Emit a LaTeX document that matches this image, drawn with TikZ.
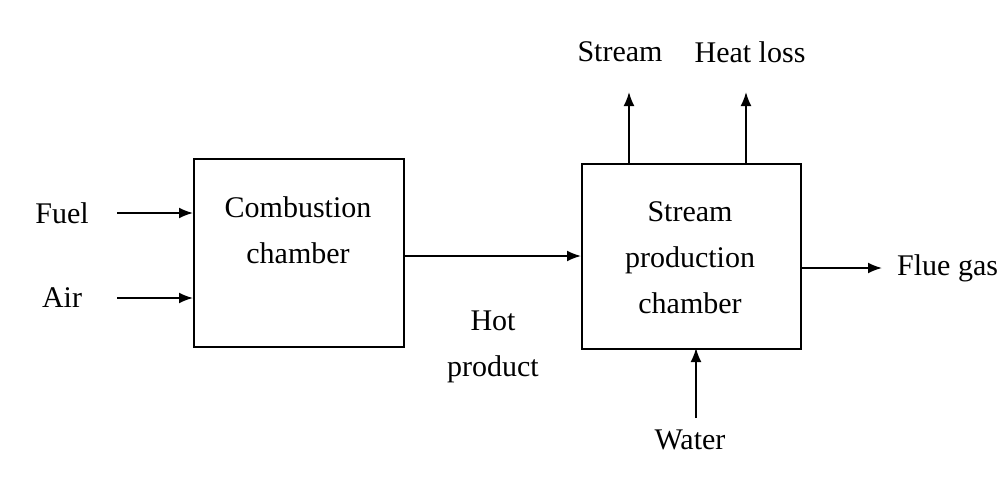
\documentclass[tikz,border=0pt]{standalone}
\usepackage{fontspec}
\setmainfont{Liberation Serif}
\usetikzlibrary{arrows.meta}
\begin{document}
\begin{tikzpicture}[x=1pt,y=-1pt,
  lbl/.style={font=\fontsize{30}{46}\selectfont, align=center, inner sep=0pt},
  box/.style={draw, line width=1.8pt, lbl},
  arr/.style={-{Latex[length=14pt,width=11pt]}, line width=1.8pt}]
\useasboundingbox (0,0) rectangle (1004,498);
\node[box, minimum width=210pt, minimum height=188pt, anchor=north west] (cc) at (193,158) {};
\node[lbl] (cct) at (298,230) {Combustion\\chamber};
\node[box, minimum width=219pt, minimum height=185pt, anchor=north west] (sp) at (581,163) {};
\node[lbl] (spt) at (690,258) {Stream\\production\\chamber};
\node[lbl] (fuel) at (62,213) {Fuel};
\node[lbl] (air) at (62,298) {Air};
\coordinate (f0) at (117,213); \coordinate (f1) at (193,213);
\coordinate (a0) at (117,298); \coordinate (a1) at (193,298);
\draw[arr] (f0) -- (f1);
\draw[arr] (a0) -- (a1);
\draw[arr] (cc.east |- 0,256) -- (sp.west |- 0,256);
\node[lbl] (hp) at (493,347) {Hot\\product};
\node[lbl] (st) at (620,52) {Stream};
\node[lbl] (hl) at (750,52) {Heat loss};
\draw[arr] (629,163) -- (629,92);
\draw[arr] (746,163) -- (746,92);
\node[lbl, anchor=west] (fg) at (897,268) {Flue gas};
\draw[arr] (sp.east |- 0,268) -- (882,268);
\node[lbl] (w) at (690,440) {Water};
\draw[arr] (696,418) -- (696,348);
\end{tikzpicture}
\end{document}
